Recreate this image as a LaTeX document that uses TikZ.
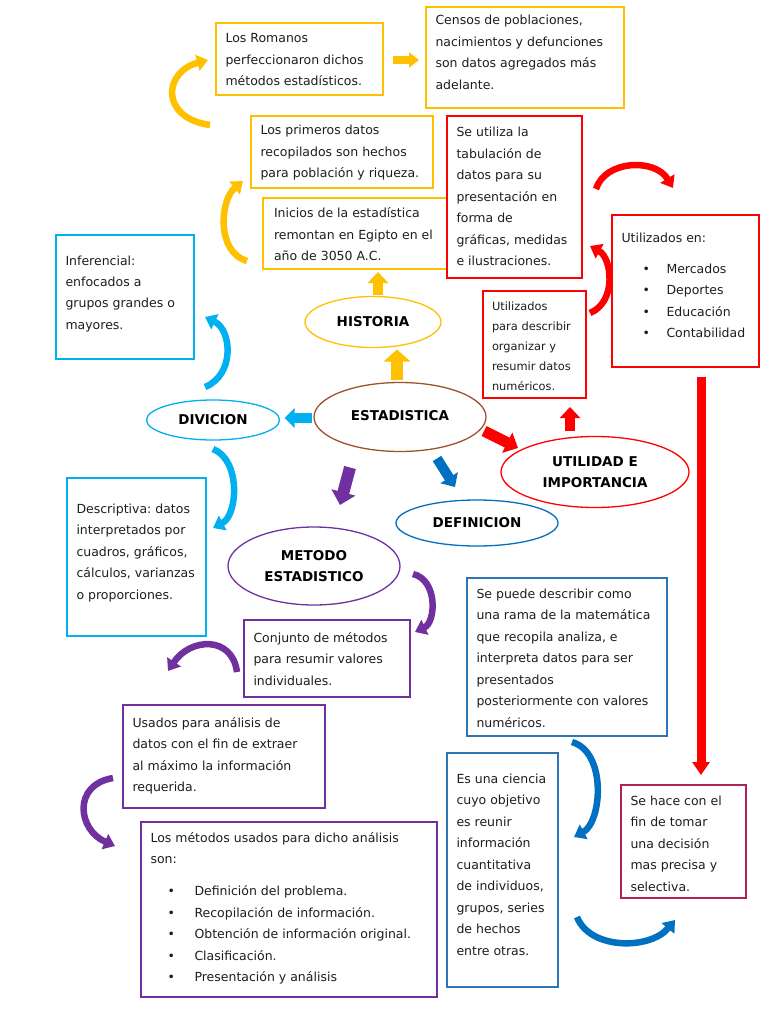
\documentclass[tikz,border=0pt]{standalone}
\usepackage{fontspec}
\setmainfont{DejaVu Sans}
\usetikzlibrary{arrows.meta,shapes.geometric,calc}
\definecolor{cy}{HTML}{FFC000}
\definecolor{cc}{HTML}{00B0F0}
\definecolor{cb}{HTML}{0070C0}
\definecolor{cbb}{HTML}{2E75B6}
\definecolor{cr}{HTML}{FF0000}
\definecolor{cp}{HTML}{7030A0}
\definecolor{cbr}{HTML}{A0522D}
\definecolor{cm}{HTML}{B0205A}
\definecolor{tx}{HTML}{1E1E1E}
\newcommand{\bx}[4]{\parbox[t][#2][t]{#1}{\raggedright\rule{0pt}{#3}#4}}
\newcommand{\bul}[2]{\makebox[#1][l]{\hspace*{#2}\textbullet}}
\begin{document}
\begin{tikzpicture}[x=1pt,y=-1pt,
  font=\fontsize{12.5}{21.5}\selectfont, text=tx,
  box/.style={draw, fill=white, line width=1.3pt, inner xsep=9.5pt, inner ysep=0pt, outer sep=0pt, anchor=north west},
  ell/.style={ellipse, draw, fill=white, line width=1.3pt, inner sep=0pt, outer sep=0pt, align=center, text=black,
    font=\fontsize{13.5}{21.5}\selectfont\bfseries},
  blk/.style n args={3}{line width=#1, -{Triangle[width=#2,length=#3]}},
  crv/.style={line width=6.5pt, -{Triangle[width=16pt,length=11pt]}}]
\fill[white] (0,0) rectangle (768,1024);
\useasboundingbox (0,0) rectangle (768,1024);

% yellow boxes
\node[box, draw=cy] (rom) at (216,23) {\bx{148pt}{72pt}{20pt}{Los~Romanos\\perfeccionaron~dichos\\métodos~estadísticos.}};
\node[box, draw=cy] (cen) at (426,7) {\bx{179pt}{101pt}{18pt}{Censos~de~poblaciones,\\nacimientos~y~defunciones\\son~datos~agregados~más\\adelante.}};
\node[box, draw=cy] (pri) at (251,116) {\bx{163pt}{72pt}{19pt}{Los~primeros~datos\\recopilados~son~hechos\\para~población~y~riqueza.}};
\node[box, draw=cy] (ini) at (263,198) {\bx{165pt}{71pt}{20pt}{\hspace*{1.5pt}Inicios~de~la~estadística\\\hspace*{1.5pt}remontan~en~Egipto~en~el\\\hspace*{1.5pt}año~de~3050~A.C.}};
% red boxes
\node[box, draw=cr] (uti) at (447,116) {\bx{116pt}{162pt}{21pt}{Se~utiliza~la\\tabulación~de\\datos~para~su\\presentación~en\\forma~de\\gráficas,~medidas\\e~ilustraciones.}};
\node[box, draw=cr] (uen) at (612,215) {\bx{128pt}{152pt}{27pt}{Utilizados~en:\\[9.5pt]
  \bul{45pt}{21pt}Mercados\\
  \bul{45pt}{21pt}Deportes\\
  \bul{45pt}{21pt}Educación\\
  \bul{45pt}{21pt}Contabilidad}};
\node[box, draw=cr, inner xsep=9pt, font=\fontsize{11.4}{20}\selectfont] (upd) at (483,291) {\bx{85pt}{107pt}{19pt}{Utilizados\\para~describir\\organizar~y\\resumir~datos\\numéricos.}};
\node[box, draw=cm] (sha) at (621,785) {\bx{106pt}{113pt}{20pt}{Se~hace~con~el\\fin~de~tomar\\una~decisión\\mas~precisa~y\\selectiva.}};
% cyan boxes
\node[box, draw=cc] (inf) at (56,235) {\bx{119pt}{124pt}{30pt}{Inferencial:\\enfocados~a\\grupos~grandes~o\\mayores.}};
\node[box, draw=cc] (des) at (67,478) {\bx{120pt}{158pt}{35pt}{Descriptiva:~datos\\interpretados~por\\cuadros,~gráficos,\\cálculos,~varianzas\\o~proporciones.}};
% purple boxes
\node[box, draw=cp] (con) at (244,620) {\bx{147pt}{77pt}{22pt}{Conjunto~de~métodos\\para~resumir~valores\\individuales.}};
\node[box, draw=cp] (usa) at (123,705) {\bx{183pt}{103pt}{22pt}{Usados~para~análisis~de\\datos~con~el~fin~de~extraer\\al~máximo~la~información\\requerida.}};
\node[box, draw=cp] (lmu) at (141,822) {\bx{277pt}{175pt}{20pt}{Los~métodos~usados~para~dicho~análisis\\son:\\[10.5pt]
  \bul{44pt}{17pt}Definición~del~problema.\\
  \bul{44pt}{17pt}Recopilación~de~información.\\
  \bul{44pt}{17pt}Obtención~de~información~original.\\
  \bul{44pt}{17pt}Clasificación.\\
  \bul{44pt}{17pt}Presentación~y~análisis}};
% blue boxes
\node[box, draw=cbb] (spd) at (467,578) {\bx{181pt}{158pt}{20pt}{Se~puede~describir~como\\una~rama~de~la~matemática\\que~recopila~analiza,~e\\interpreta~datos~para~ser\\presentados\\posteriormente~con~valores\\numéricos.}};
\node[box, draw=cbb] (esc) at (447,753) {\bx{92pt}{234pt}{30pt}{Es~una~ciencia\\cuyo~objetivo\\es~reunir\\información\\cuantitativa\\de~individuos,\\grupos,~series\\de~hechos\\entre~otras.}};

% ellipses
\node[ell, draw=cy, minimum width=136pt, minimum height=51pt] (his) at (373,322) {HISTORIA};
\node[ell, draw=cbr, minimum width=172pt, minimum height=69pt] (est) at (400,417) {\raisebox{4pt}{ESTADISTICA}};
\node[ell, draw=cc, minimum width=133pt, minimum height=40pt] (div) at (213,420) {DIVICION};
\node[ell, draw=cp, minimum width=172pt, minimum height=78pt] (met) at (314,566) {METODO\\ESTADISTICO};
\node[ell, draw=cb, minimum width=162pt, minimum height=46pt] (def) at (477,523) {DEFINICION};
\node[ell, draw=cr, minimum width=188pt, minimum height=71pt] (utl) at (595,472) {UTILIDAD E\\IMPORTANCIA};

% straight block arrows
\draw[blk={12pt}{26pt}{12pt}, cy] ($(est.north)+(-3,-3)$) -- ($(his.south)+(24,2)$);
\draw[blk={10pt}{20pt}{11pt}, cy] ($(his.north)+(5,-2)$) -- ($(ini.south)+(23,3)$);
\draw[blk={8pt}{15pt}{10pt}, cy] ($(rom.east)+(10,1)$) -- ($(cen.west)+(-7,2.5)$);
\draw[blk={10pt}{19pt}{10pt}, cc] ($(est.west)+(-2,1)$) -- ($(div.east)+(5,-2)$);
\draw[blk={12pt}{24pt}{13pt}, cp] ($(est.south)+(-50,16)$) -- ($(met.north)+(26,-22)$);
\draw[blk={10pt}{20pt}{11pt}, cb] ($(est.south)+(37,7)$) -- ($(def.north)+(-22,-13)$);
\draw[blk={11pt}{22pt}{12pt}, cr] ($(est.east)+(-2,14)$) -- ($(utl.west)+(17,-24)$);
\draw[blk={10pt}{20pt}{11pt}, cr] ($(utl.north)+(-25,-6)$) -- ($(upd.south)+(35.5,9)$);
\draw[blk={9pt}{17pt}{13pt}, cr] ($(uen.south)+(15.5,10)$) -- ($(sha.north)+(17.5,-10)$);

% curved arrows
\draw[crv, cy] ($(pri.north west)+(-41,9)$) .. controls (160,118) and (163,72) .. ($(rom.west)+(-8,1)$);
\draw[crv, cy] ($(ini.south west)+(-16,-8)$) .. controls (216,252) and (220,200) .. ($(pri.south west)+(-8,-7)$);
\draw[crv, cc] ($(div.north)+(-8,-13)$) .. controls (235,375) and (232,330) .. ($(inf.east)+(11,20)$);
\draw[crv, cc] ($(div.south)+(0,9)$) .. controls (241,460) and (238,515) .. ($(des.east)+(7,-29)$);
\draw[crv, cr] ($(upd.east)+(4,-31.5)$) .. controls (617,302) and (612,258) .. ($(uti.east)+(8,49)$);
\draw[crv, cr] ($(uti.east)+(14,-8)$) .. controls (605,160) and (655,158) .. ($(uen.north west)+(61,-27)$);
\draw[crv, cp] ($(met.east)+(13,8)$) .. controls (438,580) and (436,622) .. ($(con.north east)+(5,12)$);
\draw[crv, cp] ($(con.west)+(-7,13.5)$) .. controls (232,635) and (190,638) .. ($(usa.north west)+(45,-34)$);
\draw[crv, cp] ($(usa.west)+(-10,21.5)$) .. controls (72,785) and (78,830) .. ($(lmu.west)+(-26,-63.5)$);
\draw[crv, cb] ($(spd.south)+(5,6)$) .. controls (607,752) and (602,822) .. ($(esc.east)+(16,-33)$);
\draw[crv, cb] ($(esc.east)+(19,47)$) .. controls (590,950) and (650,950) .. ($(sha.south west)+(54,22)$);
\end{tikzpicture}
\end{document}
